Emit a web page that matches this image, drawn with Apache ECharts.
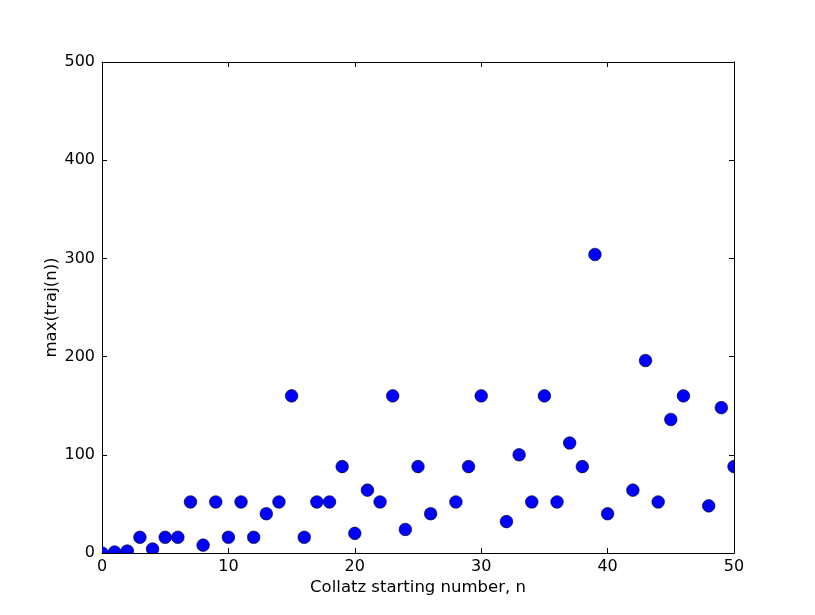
<!DOCTYPE html>
<html>
<head>
<meta charset="utf-8">
<script src="https://cdn.jsdelivr.net/npm/echarts@6/dist/echarts.min.js"></script>
<style>
  html, body { margin: 0; padding: 0; background: #fff; }
  #chart { width: 815px; height: 615px; }
</style>
</head>
<body>
<div id="chart"></div>
<script>
// starting numbers n whose max trajectory value stays inside the plot (0..500)
const startN = [0, 1, 2, 3, 4, 5, 6, 7, 8, 9, 10, 11, 12, 13, 14, 15, 16, 17, 18, 19, 20,
    21, 22, 23, 24, 25, 26, 28, 29, 30, 32, 33, 34, 35, 36, 37, 38, 39, 40,
    42, 43, 44, 45, 46, 48, 49, 50];
// max(traj(n))
const maxTraj = [0, 1, 2, 16, 4, 16, 16, 52, 8, 52, 16, 52, 16, 40, 52, 160, 16, 52, 52, 88, 20,
    64, 52, 160, 24, 88, 40, 52, 88, 160, 32, 100, 52, 160, 52, 112, 88, 304, 40,
    64, 196, 52, 136, 160, 48, 148, 88];

const points = startN.map((n, i) => [n, maxTraj[i]]);

const chart = echarts.init(document.getElementById('chart'));

const font = 'DejaVu Sans';
const lineStyle = { color: '#000', width: 1 };
const axisLine = { show: true, onZero: false, lineStyle: lineStyle };
const tickIn = { show: true, inside: true, length: 5, lineStyle: lineStyle };
const labelStyle = { fontFamily: font, fontSize: 16, color: '#000' };
const nameStyle = { fontFamily: font, fontSize: 16.5, color: '#000' };

chart.setOption({
    animation: false,
    backgroundColor: '#fff',
    grid: { left: 102, top: 62, width: 632, height: 491, show: false },
    xAxis: [
        {
            type: 'value', min: 0, max: 50, interval: 10, position: 'bottom',
            name: 'Collatz starting number, n', nameLocation: 'middle', nameGap: 26,
            nameMoveOverlap: false,
            nameTextStyle: nameStyle,
            axisLine: axisLine,
            axisTick: tickIn,
            axisLabel: Object.assign({ margin: 6 }, labelStyle),
            splitLine: { show: false }
        },
        {
            type: 'value', min: 0, max: 50, interval: 10, position: 'top',
            axisLine: axisLine,
            axisTick: tickIn,
            axisLabel: { show: false },
            splitLine: { show: false }
        }
    ],
    yAxis: [
        {
            type: 'value', min: 0, max: 500, interval: 100, position: 'left',
            name: 'max(traj(n))', nameLocation: 'middle', nameGap: 42, nameRotate: 90,
            nameMoveOverlap: false,
            nameTextStyle: nameStyle,
            axisLine: axisLine,
            axisTick: tickIn,
            axisLabel: Object.assign({ margin: 7 }, labelStyle),
            splitLine: { show: false }
        },
        {
            type: 'value', min: 0, max: 500, interval: 100, position: 'right',
            axisLine: axisLine,
            axisTick: tickIn,
            axisLabel: { show: false },
            splitLine: { show: false }
        }
    ],
    series: [{
        type: 'custom',
        clip: true,
        data: points,
        renderItem: (params, api) => {
            const p = api.coord([api.value(0), api.value(1)]);
            return {
                type: 'circle',
                shape: { cx: p[0], cy: p[1], r: 6.3 },
                style: { fill: '#0000ff', stroke: '#000', lineWidth: 0.6 }
            };
        }
    }]
});
</script>
</body>
</html>
